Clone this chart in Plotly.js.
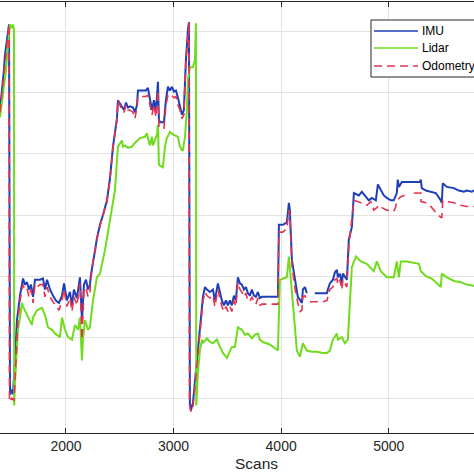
<!DOCTYPE html>
<html>
<head>
<meta charset="utf-8">
<script src="https://cdn.plot.ly/plotly-3.0.1.min.js"></script>
<style>
html,body{margin:0;padding:0;overflow:hidden;background:#fff;width:474px;height:474px;}
#chart{width:540px;height:474px;}
</style>
</head>
<body>
<div id="chart"></div>
<script>
// Scans (x) and heading-like values (y)
const imuScan = [1387,1406,1424,1433,1452,1471,1480,1498,1508,1526,1545,1573,1601,1619,1638,1656,1675,1694,1712,1731,1759,1786,1805,1824,1852,1879,1907,1935,1963,1982,2009,2037,2056,2074,2102,2130,2139,2149,2167,2186,2205,2223,2232,2251,2270,2288,2316,2344,2381,2409,2437,2474,2483,2511,2539,2558,2576,2595,2623,2641,2660,2669,2706,2743,2762,2781,2799,2818,2836,2855,2864,2873,2911,2929,2948,2966,2985,3003,3022,3041,3059,3078,3096,3115,3134,3143,3152,3161,3180,3217,3245,3273,3292,3310,3338,3366,3384,3412,3431,3449,3468,3487,3505,3524,3542,3561,3579,3598,3617,3635,3654,3672,3691,3710,3728,3747,3765,3784,3802,3821,3970,3979,4016,4053,4072,4081,4100,4128,4155,4193,4202,4221,4239,4270,4313,4425,4434,4453,4481,4499,4518,4527,4546,4564,4574,4611,4629,4657,4676,4722,4750,4787,4815,4843,4880,4899,4926,4954,4982,5019,5047,5075,5084,5094,5122,5168,5289,5298,5307,5345,5391,5437,5484,5493,5502,5540,5605,5651,5698,5725,5772,5790,5850,5950,6100,6300,6450];
const imuVal = [86,102,119,131,143,156,-147,-143,-147,-111,-86,-66,-52,-57,-55,-61,-57,-67,-53,-53,-53,-52,-61,-53,-61,-66,-70,-72,-66,-56,-70,-63,-74,-61,-68,-51,-70,-86,-57,-53,-61,-57,-49,-37,-29,-19,-8,0,12,30,56,79,94,90,86,92,88,89,88,84,90,102,102,102,104,94,86,94,84,109,78,76,76,94,105,102,105,101,102,96,90,82,86,127,152,158,-154,-160,-154,-119,-88,-67,-59,-61,-63,-61,-70,-56,-63,-70,-74,-70,-74,-70,-74,-66,-70,-51,-56,-57,-61,-59,-64,-66,-61,-66,-67,-63,-68,-67,-67,-8,-8,-6,10,4,-37,-53,-67,-72,-61,-59,-64,null,-64,-64,-61,-56,-53,-47,-45,-51,-48,-56,-48,-53,-20,-10,18,16,19,15,12,14,12,25,20,16,14,12,12,18,29,23,27,27,27,29,22,20,19,18,12,10,26,23,22,20,19,20,19,20,19,18,17,16,15];

const lidarScan = [1387,1415,1443,1461,1480,1498,1508,1517,1519,1526,1545,1554,1573,1591,1601,1619,1647,1684,1694,1731,1777,1805,1833,1870,1898,1944,1963,1991,2019,2056,2084,2112,2130,2149,2158,2177,2205,2223,2251,2288,2316,2344,2362,2381,2455,2483,2502,2520,2530,2548,2576,2613,2641,2660,2688,2734,2753,2762,2781,2799,2808,2846,2855,2864,2901,2920,2938,2966,2994,3041,3059,3078,3087,3106,3124,3134,3152,3180,3199,3208,3211,3226,3245,3264,3273,3310,3338,3366,3403,3431,3459,3496,3505,3542,3570,3598,3635,3663,3691,3728,3756,3784,3802,3830,3895,3970,3988,4016,4053,4072,4090,4109,4128,4146,4174,4202,4239,4286,4332,4388,4425,4453,4481,4518,4527,4564,4592,4620,4639,4657,4694,4741,4796,4861,4889,4926,4982,5047,5075,5094,5112,5168,5280,5298,5345,5400,5484,5493,5540,5605,5670,5725,5790,5850,5950,6100,6300,6450];
const lidarVal = [80,98,119,139,156,153,156,152,-156,-138,-111,-94,-84,-72,-75,-78,-84,-90,-84,-78,-76,-82,-92,-94,-97,-100,-84,-94,-100,-102,-90,-94,-84,-119,-102,-86,-94,-92,-70,-51,-48,-37,-29,-19,20,56,59,61,56,57,55,56,59,61,63,64,67,63,57,64,57,66,74,41,39,56,63,68,66,64,56,53,53,64,86,111,121,121,127,157,-156,-129,-111,-102,-105,-101,-104,-105,-102,-108,-113,-117,-115,-108,-108,-92,-94,-98,-97,-101,-98,-97,-102,-104,-106,-111,-53,-52,-51,-34,-51,-72,-92,-111,-116,-105,-111,-112,-112,-113,-113,-111,-102,-97,-102,-100,-105,-102,-75,-43,-34,-38,-40,-46,-38,-46,-51,-51,-38,-51,-38,-38,-40,-46,-50,-52,-59,-48,-51,-54,-55,-57,-58,-59,-60,-61,-62,-63];

const odoScan = [1387,1406,1424,1443,1461,1471,1475,1498,1517,1536,1554,1573,1601,1619,1638,1656,1675,1694,1712,1731,1759,1786,1805,1824,1852,1879,1907,1935,1963,1982,2009,2037,2056,2074,2102,2130,2139,2149,2167,2186,2205,2223,2232,2251,2270,2288,2316,2344,2381,2409,2437,2474,2483,2511,2539,2558,2576,2595,2623,2641,2660,2669,2743,2762,2781,2799,2818,2836,2855,2864,2873,2911,2929,2948,2966,2985,3003,3022,3041,3059,3078,3096,3115,3134,3143,3148,3161,3180,3217,3245,3273,3292,3310,3338,3366,3384,3412,3431,3449,3468,3487,3505,3524,3542,3561,3579,3598,3617,3635,3654,3672,3691,3710,3728,3747,3765,3784,3802,3821,3970,3979,4016,4053,4072,4081,4100,4128,4155,4174,4193,4202,4221,4239,4252,4267,4388,4425,4434,4453,4481,4499,4518,4527,4546,4564,4574,4611,4629,4648,4676,4741,4796,4834,4861,4889,4908,4936,4982,5047,5066,5075,5112,5140,5168,5200,5233,5298,5300,5345,5391,5437,5484,5493,5502,5540,5605,5670,5725,5790,5850,5950,6100,6300,6450];
const odoVal = [84,100,117,131,147,156,-153,-150,-152,-111,-86,-70,-57,-61,-60,-67,-61,-72,-57,-59,-57,-57,-67,-59,-67,-71,-75,-78,-70,-61,-75,-68,-79,-67,-74,-56,-78,-102,-63,-59,-67,-63,-53,-38,-30,-20,-9,-1,11,29,55,78,94,88,84,90,86,86,84,79,88,97,97,98,90,82,90,80,102,72,71,71,90,98,97,98,96,97,90,86,79,82,127,152,158,-156,-161,-158,-123,-92,-71,-63,-66,-68,-66,-75,-61,-68,-75,-79,-75,-79,-75,-79,-70,-75,-55,-61,-63,-67,-64,-70,-71,-67,-71,-73,-68,-74,-73,-73,-14,-14,-11,4,0,-41,-60,-72,-79,-78,-67,-66,-70,null,-71,-71,-70,-67,-61,-59,-53,-52,-57,-53,-61,-53,-59,-25,-12,12,10,8,11,4,6,8,6,4,3,7,12,15,16,16,null,18,18,11,10,7,2,-2,-2,12,11,10,8,7,7,6,5,4,3,2];

const seriesNames = ['IMU', 'Lidar', 'Odometry'];
const seriesColors = ['#1f3fb8', '#6fdc1e', '#e8334f'];
const xTicks = [2000, 3000, 4000, 5000];
const yGrid = [-150, -100, -50, 0, 50, 100, 150];

const traces = [
  {x: imuScan, y: imuVal, name: seriesNames[0], type: 'scatter', mode: 'lines',
   line: {color: seriesColors[0], width: 2}, connectgaps: false},
  {x: lidarScan, y: lidarVal, name: seriesNames[1], type: 'scatter', mode: 'lines',
   line: {color: seriesColors[1], width: 2}},
  {x: odoScan, y: odoVal, name: seriesNames[2], type: 'scatter', mode: 'lines',
   line: {color: seriesColors[2], width: 1.6, dash: '8px,5px'}, connectgaps: false}
];

// Legend box drawn in paper coordinates (box runs past the visible edge, as in the reference)
const W = 540, PT = 2, PB = 433, PH = PB - PT;
const px = v => v / W;
const py = v => (PB - v) / PH;
const legendRows = [31, 48, 66];
const shapes = [
  {type: 'rect', xref: 'paper', yref: 'paper', x0: px(371), x1: px(500), y0: py(77), y1: py(20),
   fillcolor: '#ffffff', line: {color: '#262626', width: 1}, layer: 'above'}
];
const annotations = [];
seriesNames.forEach((n, i) => {
  shapes.push({type: 'line', xref: 'paper', yref: 'paper', x0: px(374), x1: px(418),
    y0: py(legendRows[i]), y1: py(legendRows[i]),
    line: {color: seriesColors[i], width: 1.4, dash: i === 2 ? '8px,5px' : 'solid'}, layer: 'above'});
  annotations.push({text: n, xref: 'paper', yref: 'paper', x: px(419.5), y: py(legendRows[i]),
    xanchor: 'left', yanchor: 'middle', showarrow: false,
    font: {size: 12, color: '#000000'}});
});
annotations.push({
  text: 'Scans', xref: 'paper', yref: 'paper', x: px(256), y: py(474),
  xanchor: 'center', yanchor: 'bottom', showarrow: false,
  font: {size: 15.5, color: '#262626'}
});

const layout = {
  width: W, height: 474,
  margin: {l: 0, r: 0, t: PT, b: 474 - PB, pad: 0},
  paper_bgcolor: '#ffffff', plot_bgcolor: '#ffffff',
  font: {family: 'Liberation Sans, Arial, sans-serif', color: '#262626'},
  showlegend: false,
  xaxis: {
    range: [1387, 1387 + 9.294 * W], tickvals: xTicks, ticktext: xTicks.map(String),
    showgrid: true, gridcolor: '#e3e3e3', gridwidth: 1,
    zeroline: false, showline: true, linecolor: '#262626', linewidth: 1,
    mirror: 'ticks', ticks: 'inside', ticklen: 5, tickcolor: '#262626',
    tickfont: {size: 14, color: '#262626'}
  },
  yaxis: {
    range: [-178.5, 174.4], tickvals: yGrid,
    showgrid: true, gridcolor: '#e3e3e3', gridwidth: 1,
    zeroline: false, showline: true, linecolor: '#262626', linewidth: 1,
    mirror: true, ticks: '', showticklabels: false
  },
  shapes: shapes,
  annotations: annotations
};

Plotly.newPlot('chart', traces, layout, {staticPlot: true, displayModeBar: false});
</script>
</body>
</html>
